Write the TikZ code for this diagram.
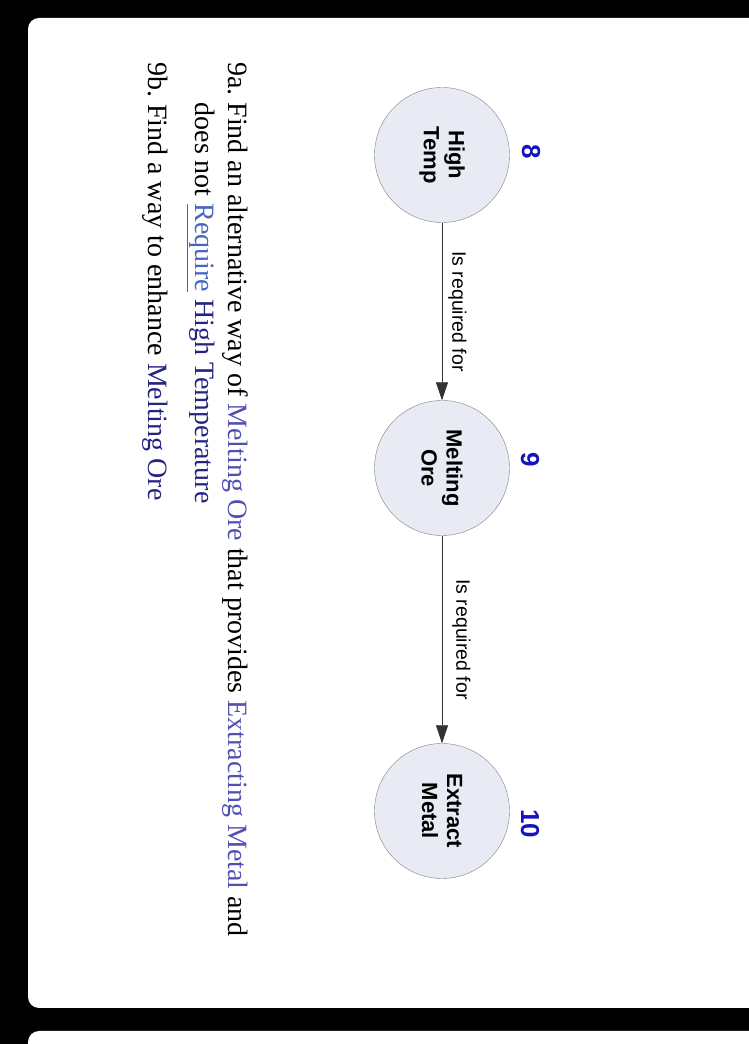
\documentclass[tikz,border=0pt]{standalone}
\usepackage{fontspec}
\setmainfont{Liberation Serif}
\setsansfont{Liberation Sans}
\usepackage{xcolor}
\usetikzlibrary{arrows.meta,positioning}

\definecolor{nodefill}{RGB}{232,234,244}
\definecolor{nodeline}{RGB}{130,130,130}
\definecolor{numblue}{RGB}{20,20,190}
\definecolor{termblue}{RGB}{80,80,180}
\definecolor{termnavy}{RGB}{36,36,130}
\definecolor{linkblue}{RGB}{70,100,195}

\begin{document}
\frenchspacing
\begin{tikzpicture}[x=1pt,y=1pt,
  stage/.style={circle,draw=nodeline,fill=nodefill,minimum size=135pt,inner sep=0pt,
    align=center,font=\sffamily\bfseries\fontsize{22}{25}\selectfont,rotate=-90},
  num/.style={text=numblue,font=\sffamily\bfseries\fontsize{26}{30}\selectfont,rotate=-90},
  link/.style={draw=black!80,line width=0.8pt,-{Triangle[length=18pt,width=12pt]}},
  linklabel/.style={midway,anchor=south,rotate=-90,inner sep=6pt,
    font=\sffamily\fontsize{19.5}{23}\selectfont},
  step text/.style={anchor=base west,rotate=-90,inner sep=0pt,align=left,
    font=\fontsize{28}{33}\selectfont}]

% Background and cards
\useasboundingbox (0,0) rectangle (749,1044);
\fill[black] (0,0) rectangle (749,1044);
\fill[white,rounded corners=11pt] (28,36) rectangle (770,1026);
\fill[white,rounded corners=11pt] (28,-30) rectangle (770,13);

% The three stages
\node[stage] (temp) at (442,889) {High\\Temp};
\node[stage] (melt) at (442,576) {Melting\\Ore};
\node[stage] (metal) at (442,233) {Extract\\Metal};

% Stage numbers
\node[num] (n8) at (531,892) {8};
\node[num] (n9) at (530,584) {9};
\node[num] (n10) at (530,220) {10};

% Links between the stages
\draw[link] (temp) -- (melt) node[linklabel] {Is required for};
\draw[link] (melt) -- (metal) node[linklabel,inner sep=10pt] {Is required for};

% Steps below the diagram (base is the last line)
\node[step text] (s9a) at (195,982) {9a. Find an alternative way of \textcolor{termblue}{Melting Ore} that provides \textcolor{termblue}{Extracting Metal} and\\
  \hphantom{9a.\ }does not {\color{linkblue}\underline{Require}} \textcolor{termnavy}{High Temperature}};
\node[step text] (s9b) at (148,982) {9b. Find a way to enhance \textcolor{termnavy}{Melting Ore}};

\end{tikzpicture}
\end{document}
